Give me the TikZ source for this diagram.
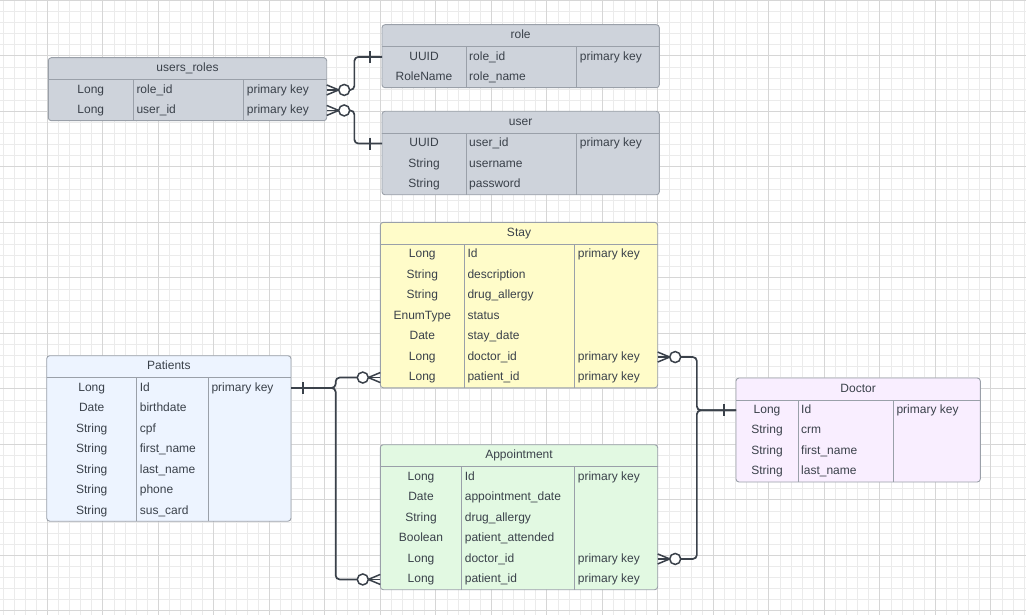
\documentclass[tikz,border=0pt]{standalone}
\usepackage{fontspec}
\setmainfont{Liberation Sans}
\usetikzlibrary{calc}
\definecolor{txt}{HTML}{3A414A}
\definecolor{ink}{HTML}{3A414A}
\definecolor{bord}{HTML}{9AA0A9}
\definecolor{gfill}{HTML}{CED3DB}
\definecolor{yfill}{HTML}{FFFCC9}
\definecolor{bfill}{HTML}{EDF4FF}
\definecolor{gnfill}{HTML}{E2F9E2}
\definecolor{pfill}{HTML}{F9EEFF}
\definecolor{gridminor}{HTML}{EBEBEB}
\definecolor{gridmajor}{HTML}{D6D6D6}
\tikzset{
  tabbox/.style={draw=bord, line width=0.9pt, rounded corners=3pt, inner sep=0pt, outer sep=0pt},
  sepline/.style={draw=bord, line width=0.9pt},
  cell/.style={inner sep=0pt, text=txt, font=\fontsize{12}{14}\selectfont, text height=8.8pt, text depth=2.6pt},
  conn/.style={draw=ink, line width=1.7pt, rounded corners=4pt},
  crow/.style={draw=ink, line width=1.5pt},
  gminor/.style={draw=gridminor, line width=0.7pt},
  gmajor/.style={draw=gridmajor, line width=0.8pt},
}
\pgfkeys{/ert/.cd, left/.store in=\tL, top/.store in=\tT, right/.store in=\tR,
  ca/.store in=\tA, cb/.store in=\tB, rows/.store in=\tN, fill/.store in=\tF}
\newcommand\ertab[4]{%
  \pgfkeys{/ert/.cd,#1}%
  \pgfmathsetmacro\tBot{\tT+22+20.5*\tN}%
  \pgfmathsetmacro\tW{\tR-\tL}%
  \pgfmathsetmacro\tH{\tBot-\tT}%
  \node[tabbox, fill=\tF, minimum width=\tW pt, minimum height=\tH pt, anchor=north west] (#2) at (\tL,\tT) {};
  \draw[sepline] (\tL,\tT+22) -- (\tR,\tT+22);
  \draw[sepline] (\tA,\tT+22) -- (\tA,\tBot);
  \draw[sepline] (\tB,\tT+22) -- (\tB,\tBot);
  \node[cell] (#2-t) at ({(\tL+\tR)/2},\tT+11) {#3};
  \foreach \a/\b/\c [count=\i] in {#4} {
    \pgfmathsetmacro\yy{\tT+22+20.5*(\i-0.5)}
    \node[cell] (#2-\i a) at ({(\tL+\tA)/2},\yy) {\a};
    \node[cell, anchor=west] (#2-\i b) at (\tA+3,\yy) {\b};
    \node[cell, anchor=west] (#2-\i c) at (\tB+3,\yy) {\c};
  }%
}
\newcommand\crowzm[2]{%
  \draw[crow] (#1) ++(0,-5) -- ++({(#2)*12},5) -- ++({-(#2)*12},5);
  \draw[crow] (#1) -- ++({(#2)*12},0);
  \draw[crow, fill=white] ($(#1)+({(#2)*17.5},0)$) circle[radius=5.5];
}
\newcommand\onebar[2]{%
  \draw[crow] ($(#1)+({(#2)*12},-6)$) -- ($(#1)+({(#2)*12},6)$);
}
\begin{document}
\begin{tikzpicture}[x=1pt, y=-1pt]
\useasboundingbox (0,0) rectangle (1026,615);
\fill[white] (0,0) rectangle (1026,615);
\begin{scope}
\clip (0,0) rectangle (1026,615);
\foreach \i in {0,...,92} {
  \draw[gminor] ({2.9+11.1*\i},0) -- ({2.9+11.1*\i},615);
}
\foreach \j in {0,...,56} {
  \draw[gminor] (0,{0.3+11.1*\j}) -- (1026,{0.3+11.1*\j});
}
\foreach \i in {0,...,18} {
  \draw[gmajor] ({47.3+55.5*(\i-1)},0) -- ({47.3+55.5*(\i-1)},615);
}
\foreach \j in {0,...,11} {
  \draw[gmajor] (0,{55.8+55.5*(\j-1)}) -- (1026,{55.8+55.5*(\j-1)});
}
\end{scope}

\ertab{left=48.3, top=57.7, right=326.7, ca=133.3, cb=243.7, rows=2, fill=gfill}{ur}{users\_roles}
  {Long/role\_id/primary key, Long/user\_id/primary key}
\ertab{left=382, top=24.7, right=659.3, ca=466, cb=576.7, rows=2, fill=gfill}{role}{role}
  {UUID/role\_id/primary key, RoleName/role\_name/{}}
\ertab{left=382, top=111.3, right=659.3, ca=466, cb=576.7, rows=3, fill=gfill}{user}{user}
  {UUID/user\_id/primary key, String/username/{}, String/password/{}}
\ertab{left=380.3, top=222.3, right=657.7, ca=464.3, cb=574.7, rows=7, fill=yfill}{stay}{Stay}
  {Long/Id/primary key, String/description/{}, String/drug\_allergy/{}, EnumType/status/{},
   Date/stay\_date/{}, Long/doctor\_id/primary key, Long/patient\_id/primary key}
\ertab{left=46.7, top=355.7, right=291, ca=136.7, cb=208.3, rows=7, fill=bfill}{pat}{Patients}
  {Long/Id/primary key, Date/birthdate/{}, String/cpf/{}, String/first\_name/{},
   String/last\_name/{}, String/phone/{}, String/sus\_card/{}}
\ertab{left=380.3, top=444.7, right=657.7, ca=461.7, cb=574.7, rows=6, fill=gnfill}{app}{Appointment}
  {Long/Id/primary key, Date/appointment\_date/{}, String/drug\_allergy/{},
   Boolean/patient\_attended/{}, Long/doctor\_id/primary key, Long/patient\_id/primary key}
\ertab{left=736, top=378, right=980.3, ca=798, cb=893.3, rows=4, fill=pfill}{doc}{Doctor}
  {Long/Id/primary key, String/crm/{}, String/first\_name/{}, String/last\_name/{}}

% edge points
\coordinate (u1) at (ur.east |- ur-1c);
\coordinate (u2) at (ur.east |- ur-2c);
\coordinate (r1) at (role.west |- role-1a);
\coordinate (s1) at (user.west |- user-1a);
\coordinate (p1) at (pat.east |- pat-1c);
\coordinate (sp) at (stay.west |- stay-7a);
\coordinate (ap) at (app.west |- app-6a);
\coordinate (d1) at (doc.west |- doc-1a);
\coordinate (sd) at (stay.east |- stay-6c);
\coordinate (ad) at (app.east |- app-5c);
\coordinate (m1) at ($(u1)!.5!(r1)$);
\coordinate (m2) at ($(u2)!.5!(s1)$);
\coordinate (m3) at ($(p1)!.5!(sp)$);
\coordinate (m4) at ($(d1)!.5!(sd)$);

% users_roles -> role / user
\draw[conn] ($(u1)+(23,0)$) -| (m1 |- r1) -- (r1);
\draw[conn] ($(u2)+(23,0)$) -| (m2 |- s1) -- (s1);
\crowzm{u1}{1}
\crowzm{u2}{1}
\onebar{r1}{-1}
\onebar{s1}{-1}

% patients -> stay / appointment
\draw[conn] (p1) -| (m3 |- sp) -- ($(sp)+(-23,0)$);
\draw[conn] (p1) -| (m3 |- ap) -- ($(ap)+(-23,0)$);
\onebar{p1}{1}
\crowzm{sp}{-1}
\crowzm{ap}{-1}

% doctor -> stay / appointment
\draw[conn] (d1) -| (m4 |- sd) -- ($(sd)+(23,0)$);
\draw[conn] (d1) -| (m4 |- ad) -- ($(ad)+(23,0)$);
\onebar{d1}{-1}
\crowzm{sd}{1}
\crowzm{ad}{1}
\end{tikzpicture}
\end{document}
